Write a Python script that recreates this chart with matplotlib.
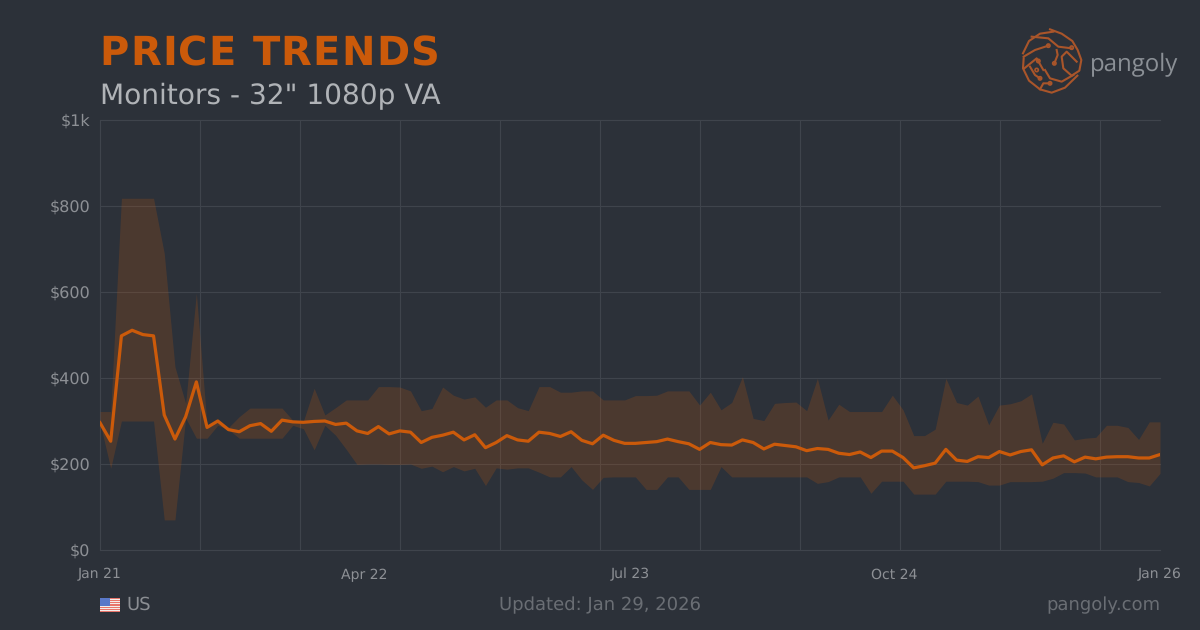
import numpy as np
import matplotlib
matplotlib.use("Agg")
import matplotlib.pyplot as plt
from matplotlib.patches import Circle, Rectangle

plt.rcParams["text.hinting"] = "none"
plt.rcParams["text.hinting_factor"] = 1

W, H = 1200, 630

BG = "#2c3139"
ORANGE = "#cb5a0a"
GRID = "#3f444c"

# weekly-ish samples
price = [296, 253, 498, 511, 501, 498, 314, 258, 310, 391,
         285, 300, 280, 275, 289, 294, 276, 302, 298, 297,
         299, 300, 292, 295, 277, 271, 287, 270, 277, 274,
         250, 262, 267, 274, 256, 268, 238, 250, 266, 256,
         253, 274, 271, 264, 275, 255, 247, 267, 255, 248,
         248, 250, 252, 258, 252, 247, 234, 250, 245, 244,
         256, 250, 235, 246, 243, 240, 231, 236, 234, 225,
         222, 228, 215, 230, 230, 215, 191, 196, 202, 234,
         209, 206, 217, 215, 229, 221, 229, 233, 198, 214,
         219, 205, 216, 212, 216, 217, 217, 214, 214, 222]

upper = [322, 322, 818, 818, 818, 818, 690, 426, 341, 597,
         290, 300, 285, 310, 330, 330, 330, 330, 302, 300,
         376, 314, 331, 349, 349, 349, 380, 380, 379, 370,
         324, 329, 379, 360, 351, 356, 332, 349, 349, 331,
         324, 380, 380, 367, 367, 370, 370, 349, 349, 349,
         359, 359, 360, 370, 370, 370, 337, 367, 326, 343,
         403, 306, 301, 341, 343, 344, 324, 399, 302, 339,
         322, 322, 322, 322, 360, 326, 266, 266, 281, 399,
         343, 337, 358, 291, 337, 340, 347, 363, 248, 297,
         293, 256, 260, 262, 290, 290, 285, 257, 298, 298]

lower = [296, 190, 300, 300, 300, 300, 70, 70, 307, 260,
         260, 290, 280, 260, 260, 260, 260, 260, 290, 282,
         233, 290, 267, 234, 199, 200, 200, 199, 199, 200,
         190, 195, 182, 194, 184, 190, 150, 191, 188, 191,
         191, 181, 170, 170, 194, 163, 141, 169, 170, 170,
         170, 141, 141, 170, 170, 141, 141, 141, 194, 170,
         170, 170, 170, 170, 170, 170, 170, 155, 159, 170,
         170, 170, 132, 160, 160, 160, 130, 130, 130, 160,
         160, 160, 159, 151, 151, 159, 159, 159, 160, 167,
         180, 180, 179, 170, 170, 170, 159, 157, 149, 178]

y_ticks = [0, 200, 400, 600, 800, 1000]
y_labels = ["$0", "$200", "$400", "$600", "$800", "$1k"]
x_labels = ["Jan 21", "Apr 22", "Jul 23", "Oct 24", "Jan 26"]
x_label_pos = [0, 24.7, 49.5, 74.2, 99]

# logo strokes, in 3x crop coordinates of the mark
logo_lines = [
    [(24, 85), (42, 48), (75, 26), (115, 20)],
    [(105, 13), (140, 26), (172, 48), (188, 75), (199, 105), (193, 137), (170, 152),
     (145, 130), (140, 95), (155, 80), (185, 110)],
    [(50, 35), (100, 40), (130, 65), (170, 70)],
    [(26, 95), (60, 75), (100, 62)],
    [(125, 75), (128, 90), (118, 115)],
    [(26, 100), (24, 130), (42, 167), (75, 193), (110, 203), (150, 188), (187, 152)],
    [(28, 130), (65, 100), (85, 135)],
    [(45, 125), (60, 150), (75, 160)],
    [(90, 135), (105, 160), (140, 170), (175, 150)],
    [(75, 193), (85, 175), (105, 175)],
]
logo_dots = [(170, 68), (100, 62), (118, 115), (70, 108), (65, 135), (75, 160), (105, 175)]


def fx(px):
    return px / W


def fy(py):
    return 1 - py / H


def spaced_text(fig, px, py, s, spacing, **kw):
    # no letter-spacing in matplotlib, so place the letters one by one
    r = fig.canvas.get_renderer()
    probe = fig.text(0, 0, "|", **kw)
    bar = probe.get_window_extent(r).width
    for i, ch in enumerate(s):
        probe.set_text(s[:i] + "|")
        adv = probe.get_window_extent(r).width - bar
        fig.text(fx(px + adv + i * spacing), fy(py), ch, ha="left", va="baseline", **kw)
    probe.remove()


fig = plt.figure(figsize=(W / 100, H / 100), dpi=100, facecolor=BG)
ax = fig.add_axes([fx(100), fy(550), fx(1060), 430 / H], facecolor=BG)

x = np.arange(len(price))
ax.fill_between(x, lower, upper, color=ORANGE, alpha=0.2, linewidth=0, zorder=3)
ax.plot(x, price, color=ORANGE, linewidth=2.3, zorder=4)

ax.set_xlim(0, 99)
ax.set_ylim(0, 1000)
ax.set_yticks(y_ticks)
ax.set_yticklabels(y_labels)
ax.set_xticks(x_label_pos)
ax.set_xticklabels(x_labels)
ax.tick_params(axis="y", length=0, pad=7, labelsize=11.5, labelcolor="#8d9095")
ax.tick_params(axis="x", length=0, pad=13, labelsize=10.1, labelcolor="#8d9095")

# vertical grid is every 100px, not on the label positions
for gx in np.arange(0, 99, 100 / (1060 / 99)):
    ax.axvline(gx, color=GRID, linewidth=0.8, zorder=1, clip_on=False)
for gy in y_ticks:
    ax.axhline(gy, color=GRID, linewidth=0.8, zorder=1, clip_on=False)
for s in ax.spines.values():
    s.set_visible(False)

spaced_text(fig, 99.5, 65, "PRICE TRENDS", 1.2, color=ORANGE, fontsize=29, fontweight="bold")
fig.text(fx(100), fy(104), 'Monitors - 32" 1080p VA', color="#b0b3b7", fontsize=20.2,
         ha="left", va="baseline")

fig.text(fx(126), fy(610), "US", color="#8b8e93", fontsize=13, ha="left", va="baseline")
fig.text(fx(600), fy(610), "Updated: Jan 29, 2026", color="#6a6e74", fontsize=13,
         ha="center", va="baseline")
fig.text(fx(1160), fy(610), "pangoly.com", color="#6a6e74", fontsize=13, ha="right", va="baseline")

# flag
flag = fig.add_axes([fx(100), fy(612), 20 / W, 14 / H])
flag.set_xlim(0, 20)
flag.set_ylim(0, 13)
flag.axis("off")
for i in range(13):
    flag.add_patch(Rectangle((0, i), 20, 1, color="#e8756a" if i % 2 == 0 else "#f4ece8", lw=0))
flag.add_patch(Rectangle((0, 6), 10, 7, color="#5a78c8", lw=0))

# logo, rough version of the round mark
logo = fig.add_axes([fx(1015), fy(95), 75 / W, 70 / H])
logo.set_xlim(0, 225)
logo.set_ylim(210, 0)
logo.axis("off")
LOGO = "#a9552a"
for line in logo_lines:
    lx, ly = zip(*line)
    logo.plot(lx, ly, color=LOGO, lw=1.5, clip_on=False)
for d in logo_dots:
    logo.add_patch(Circle(d, 5, fill=False, ec=LOGO, lw=1.2))

fig.text(fx(1090), fy(71), "pangoly", color="#8b9096", fontsize=17.6, family="Open Sans",
         ha="left", va="baseline")

fig.savefig("out.png", dpi=100, facecolor=BG)
